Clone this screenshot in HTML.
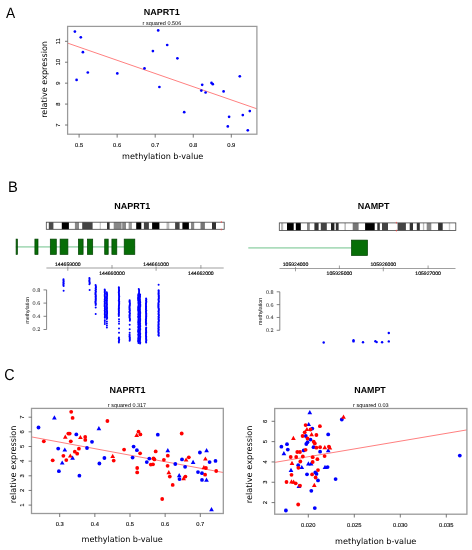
<!DOCTYPE html>
<html><head><meta charset="utf-8"><title>Figure</title>
<style>
html,body{margin:0;padding:0;background:#fff;width:472px;height:550px;overflow:hidden;}
svg{display:block;}
text{font-family:"Liberation Sans", Arial, sans-serif;dominant-baseline:alphabetic;text-rendering:geometricPrecision;}
</style></head>
<body>
<svg width="472" height="550" viewBox="0 0 472 550">
<rect x="0" y="0" width="472" height="550" fill="#fff"/>
<text x="5.93" y="17.95" font-size="15" text-anchor="start" fill="#000" textLength="9.16" lengthAdjust="spacingAndGlyphs">A</text>
<text x="8.02" y="191.5" font-size="15.2" text-anchor="start" fill="#000" textLength="9.81" lengthAdjust="spacingAndGlyphs">B</text>
<text x="4.33" y="379.6" font-size="15.9" text-anchor="start" fill="#000" textLength="10.33" lengthAdjust="spacingAndGlyphs">C</text>
<text x="161.75" y="14.9" font-size="8.9" text-anchor="middle" fill="#000" font-weight="bold" textLength="36" lengthAdjust="spacingAndGlyphs">NAPRT1</text>
<text x="161.9" y="25.2" font-size="5.5" text-anchor="middle" fill="#000" textLength="38.6" lengthAdjust="spacingAndGlyphs">r squared 0.506</text>
<line x1="67.6" y1="43.1" x2="256.9" y2="108.8" stroke="#ff8080" stroke-width="1"/>
<rect x="67.6" y="26.4" width="189.29999999999998" height="107.79999999999998" fill="none" stroke="#9a9a9a" stroke-width="1.25"/>
<line x1="65" y1="125.02" x2="67.6" y2="125.02" stroke="#555" stroke-width="0.8"/>
<text transform="translate(59.8,125.02) rotate(-90)" font-size="5.8" text-anchor="middle" fill="#000" stroke="#000" stroke-width="0.1">7</text>
<line x1="65" y1="104.09" x2="67.6" y2="104.09" stroke="#555" stroke-width="0.8"/>
<text transform="translate(59.8,104.09) rotate(-90)" font-size="5.8" text-anchor="middle" fill="#000" stroke="#000" stroke-width="0.1">8</text>
<line x1="65" y1="83.16" x2="67.6" y2="83.16" stroke="#555" stroke-width="0.8"/>
<text transform="translate(59.8,83.16) rotate(-90)" font-size="5.8" text-anchor="middle" fill="#000" stroke="#000" stroke-width="0.1">9</text>
<line x1="65" y1="62.23" x2="67.6" y2="62.23" stroke="#555" stroke-width="0.8"/>
<text transform="translate(59.8,62.23) rotate(-90)" font-size="5.8" text-anchor="middle" fill="#000" stroke="#000" stroke-width="0.1">10</text>
<line x1="65" y1="41.3" x2="67.6" y2="41.3" stroke="#555" stroke-width="0.8"/>
<text transform="translate(59.8,41.3) rotate(-90)" font-size="5.8" text-anchor="middle" fill="#000" stroke="#000" stroke-width="0.1">11</text>
<line x1="79.1" y1="134.2" x2="79.1" y2="137.6" stroke="#555" stroke-width="0.8"/>
<text x="79.1" y="146.5" font-size="5.8" text-anchor="middle" fill="#000" stroke="#000" stroke-width="0.1">0.5</text>
<line x1="117.14999999999998" y1="134.2" x2="117.14999999999998" y2="137.6" stroke="#555" stroke-width="0.8"/>
<text x="117.14999999999998" y="146.5" font-size="5.8" text-anchor="middle" fill="#000" stroke="#000" stroke-width="0.1">0.6</text>
<line x1="155.2" y1="134.2" x2="155.2" y2="137.6" stroke="#555" stroke-width="0.8"/>
<text x="155.2" y="146.5" font-size="5.8" text-anchor="middle" fill="#000" stroke="#000" stroke-width="0.1">0.7</text>
<line x1="193.25" y1="134.2" x2="193.25" y2="137.6" stroke="#555" stroke-width="0.8"/>
<text x="193.25" y="146.5" font-size="5.8" text-anchor="middle" fill="#000" stroke="#000" stroke-width="0.1">0.8</text>
<line x1="231.3" y1="134.2" x2="231.3" y2="137.6" stroke="#555" stroke-width="0.8"/>
<text x="231.3" y="146.5" font-size="5.8" text-anchor="middle" fill="#000" stroke="#000" stroke-width="0.1">0.9</text>
<text x="162.7" y="159.1" font-size="8.1" text-anchor="middle" fill="#000" textLength="81.2" lengthAdjust="spacingAndGlyphs" style="font-family:&apos;DejaVu Sans&apos;,sans-serif">methylation b-value</text>
<text transform="translate(47.1,79.4) rotate(-90)" font-size="8.1" text-anchor="middle" fill="#000" textLength="76.8" lengthAdjust="spacingAndGlyphs" style="font-family:&apos;DejaVu Sans&apos;,sans-serif">relative expression</text>
<circle cx="74.9" cy="31.6" r="1.35" fill="#0000ff"/>
<circle cx="80.8" cy="37.3" r="1.35" fill="#0000ff"/>
<circle cx="82.9" cy="52.2" r="1.35" fill="#0000ff"/>
<circle cx="87.8" cy="72.5" r="1.35" fill="#0000ff"/>
<circle cx="76.6" cy="79.9" r="1.35" fill="#0000ff"/>
<circle cx="117.3" cy="73.4" r="1.35" fill="#0000ff"/>
<circle cx="144.5" cy="68.4" r="1.35" fill="#0000ff"/>
<circle cx="152.9" cy="51.1" r="1.35" fill="#0000ff"/>
<circle cx="158.2" cy="30.4" r="1.35" fill="#0000ff"/>
<circle cx="159.4" cy="87.0" r="1.35" fill="#0000ff"/>
<circle cx="167.2" cy="45.0" r="1.35" fill="#0000ff"/>
<circle cx="177.4" cy="58.3" r="1.35" fill="#0000ff"/>
<circle cx="239.8" cy="76.3" r="1.35" fill="#0000ff"/>
<circle cx="202.2" cy="84.8" r="1.35" fill="#0000ff"/>
<circle cx="211.5" cy="82.9" r="1.35" fill="#0000ff"/>
<circle cx="212.8" cy="84.2" r="1.35" fill="#0000ff"/>
<circle cx="201.3" cy="90.6" r="1.35" fill="#0000ff"/>
<circle cx="205.6" cy="92.5" r="1.35" fill="#0000ff"/>
<circle cx="223.6" cy="91.4" r="1.35" fill="#0000ff"/>
<circle cx="184.2" cy="112.2" r="1.35" fill="#0000ff"/>
<circle cx="229.1" cy="116.8" r="1.35" fill="#0000ff"/>
<circle cx="242.8" cy="115.1" r="1.35" fill="#0000ff"/>
<circle cx="249.8" cy="111.1" r="1.35" fill="#0000ff"/>
<circle cx="227.8" cy="126.4" r="1.35" fill="#0000ff"/>
<circle cx="247.8" cy="130.3" r="1.35" fill="#0000ff"/>
<text x="132.15" y="208.9" font-size="8.9" text-anchor="middle" fill="#000" font-weight="bold" textLength="36" lengthAdjust="spacingAndGlyphs">NAPRT1</text>
<text x="373.65" y="208.9" font-size="8.9" text-anchor="middle" fill="#000" font-weight="bold" textLength="31.85" lengthAdjust="spacingAndGlyphs">NAMPT</text>
<rect x="46.3" y="222.2" width="177.89999999999998" height="7.100000000000023" fill="#fff" stroke="none" stroke-width="1"/>
<rect x="48.8" y="222.2" width="4.600000000000001" height="7.100000000000023" fill="#4a4a4a" stroke="none" stroke-width="1"/>
<rect x="61.8" y="222.2" width="7.1000000000000085" height="7.100000000000023" fill="#000" stroke="none" stroke-width="1"/>
<rect x="74.9" y="222.2" width="4.099999999999994" height="7.100000000000023" fill="#888" stroke="none" stroke-width="1"/>
<rect x="82.2" y="222.2" width="10.399999999999991" height="7.100000000000023" fill="#444" stroke="none" stroke-width="1"/>
<rect x="99.8" y="222.2" width="0.7999999999999972" height="7.100000000000023" fill="#aaa" stroke="none" stroke-width="1"/>
<rect x="107.0" y="222.2" width="2.5999999999999943" height="7.100000000000023" fill="#333" stroke="none" stroke-width="1"/>
<rect x="113.7" y="222.2" width="7.299999999999997" height="7.100000000000023" fill="#888" stroke="none" stroke-width="1"/>
<rect x="121.0" y="222.2" width="1.2000000000000028" height="7.100000000000023" fill="#bbb" stroke="none" stroke-width="1"/>
<rect x="122.2" y="222.2" width="3.799999999999997" height="7.100000000000023" fill="#888" stroke="none" stroke-width="1"/>
<rect x="128.6" y="222.2" width="3.3000000000000114" height="7.100000000000023" fill="#999" stroke="none" stroke-width="1"/>
<rect x="136.2" y="222.2" width="5.100000000000023" height="7.100000000000023" fill="#000" stroke="none" stroke-width="1"/>
<rect x="143.9" y="222.2" width="5.0" height="7.100000000000023" fill="#444" stroke="none" stroke-width="1"/>
<rect x="152.1" y="222.2" width="7.300000000000011" height="7.100000000000023" fill="#000" stroke="none" stroke-width="1"/>
<rect x="166.5" y="222.2" width="2.8000000000000114" height="7.100000000000023" fill="#bbb" stroke="none" stroke-width="1"/>
<rect x="175.1" y="222.2" width="4.5" height="7.100000000000023" fill="#444" stroke="none" stroke-width="1"/>
<rect x="182.4" y="222.2" width="6.5" height="7.100000000000023" fill="#000" stroke="none" stroke-width="1"/>
<rect x="191.0" y="222.2" width="3.1999999999999886" height="7.100000000000023" fill="#888" stroke="none" stroke-width="1"/>
<rect x="200.5" y="222.2" width="4.400000000000006" height="7.100000000000023" fill="#777" stroke="none" stroke-width="1"/>
<rect x="212.0" y="222.2" width="4.0" height="7.100000000000023" fill="#333" stroke="none" stroke-width="1"/>
<rect x="46.3" y="222.2" width="177.89999999999998" height="7.100000000000023" fill="none" stroke="#444" stroke-width="0.8"/>
<line x1="221.3" y1="221.2" x2="221.3" y2="222.79999999999998" stroke="#ff4040" stroke-width="0.8"/>
<line x1="221.3" y1="228.70000000000002" x2="221.3" y2="230.3" stroke="#ff4040" stroke-width="0.8"/>
<rect x="279.3" y="222.9" width="176.5" height="7.5" fill="#fff" stroke="none" stroke-width="1"/>
<rect x="281.0" y="222.9" width="2.1999999999999886" height="7.5" fill="#bbb" stroke="none" stroke-width="1"/>
<rect x="287.0" y="222.9" width="6.699999999999989" height="7.5" fill="#000" stroke="none" stroke-width="1"/>
<rect x="295.8" y="222.9" width="5.0" height="7.5" fill="#000" stroke="none" stroke-width="1"/>
<rect x="307.0" y="222.9" width="2.8000000000000114" height="7.5" fill="#888" stroke="none" stroke-width="1"/>
<rect x="314.4" y="222.9" width="4.2000000000000455" height="7.5" fill="#333" stroke="none" stroke-width="1"/>
<rect x="320.8" y="222.9" width="6.0" height="7.5" fill="#444" stroke="none" stroke-width="1"/>
<rect x="331.0" y="222.9" width="3.3999999999999773" height="7.5" fill="#222" stroke="none" stroke-width="1"/>
<rect x="335.8" y="222.9" width="2.8000000000000114" height="7.5" fill="#333" stroke="none" stroke-width="1"/>
<rect x="344.6" y="222.9" width="1.0" height="7.5" fill="#999" stroke="none" stroke-width="1"/>
<rect x="352.7" y="222.9" width="5.900000000000034" height="7.5" fill="#777" stroke="none" stroke-width="1"/>
<rect x="365.1" y="222.9" width="9.599999999999966" height="7.5" fill="#000" stroke="none" stroke-width="1"/>
<rect x="377.3" y="222.9" width="2.5" height="7.5" fill="#333" stroke="none" stroke-width="1"/>
<rect x="382.0" y="222.9" width="6.0" height="7.5" fill="#444" stroke="none" stroke-width="1"/>
<rect x="397.6" y="222.9" width="8.299999999999955" height="7.5" fill="#444" stroke="none" stroke-width="1"/>
<rect x="409.7" y="222.9" width="3.3000000000000114" height="7.5" fill="#333" stroke="none" stroke-width="1"/>
<rect x="416.8" y="222.9" width="3.0" height="7.5" fill="#333" stroke="none" stroke-width="1"/>
<rect x="422.9" y="222.9" width="1.3000000000000114" height="7.5" fill="#bbb" stroke="none" stroke-width="1"/>
<rect x="426.7" y="222.9" width="4.600000000000023" height="7.5" fill="#888" stroke="none" stroke-width="1"/>
<rect x="438.1" y="222.9" width="4.599999999999966" height="7.5" fill="#333" stroke="none" stroke-width="1"/>
<rect x="448.8" y="222.9" width="1.3999999999999773" height="7.5" fill="#ccc" stroke="none" stroke-width="1"/>
<rect x="279.3" y="222.9" width="176.5" height="7.5" fill="none" stroke="#444" stroke-width="0.8"/>
<line x1="396.4" y1="221.9" x2="396.4" y2="223.5" stroke="#ff4040" stroke-width="0.8"/>
<line x1="396.4" y1="229.8" x2="396.4" y2="231.4" stroke="#ff4040" stroke-width="0.8"/>
<line x1="15.8" y1="246.8" x2="135.1" y2="246.8" stroke="#acdcbc" stroke-width="1.7"/>
<rect x="16.1" y="239.1" width="1.2999999999999985" height="15.3" fill="#076e07" stroke="#004000" stroke-width="0.7"/>
<rect x="34.9" y="239.1" width="3.0999999999999956" height="15.3" fill="#076e07" stroke="#004000" stroke-width="0.7"/>
<rect x="50.3" y="239.1" width="6.000000000000002" height="15.3" fill="#076e07" stroke="#004000" stroke-width="0.7"/>
<rect x="60.099999999999994" y="239.1" width="7.800000000000006" height="15.3" fill="#076e07" stroke="#004000" stroke-width="0.7"/>
<rect x="78.39999999999999" y="239.1" width="4.700000000000012" height="15.3" fill="#076e07" stroke="#004000" stroke-width="0.7"/>
<rect x="87.39999999999999" y="239.1" width="5.300000000000006" height="15.3" fill="#076e07" stroke="#004000" stroke-width="0.7"/>
<rect x="104.7" y="239.1" width="3.4999999999999942" height="15.3" fill="#076e07" stroke="#004000" stroke-width="0.7"/>
<rect x="111.89999999999999" y="239.1" width="4.9" height="15.3" fill="#076e07" stroke="#004000" stroke-width="0.7"/>
<rect x="124.2" y="239.1" width="10.599999999999989" height="15.3" fill="#076e07" stroke="#004000" stroke-width="0.7"/>
<line x1="248.3" y1="247.8" x2="351.2" y2="247.8" stroke="#acdcbc" stroke-width="1.7"/>
<rect x="351.5" y="240.1" width="16.0" height="15.4" fill="#076e07" stroke="#004000" stroke-width="0.7"/>
<line x1="46.4" y1="268.0" x2="223.7" y2="268.0" stroke="#a0a0a0" stroke-width="1.2"/>
<line x1="67.8" y1="266.59999999999997" x2="67.8" y2="270.79999999999995" stroke="#777" stroke-width="0.7"/>
<text x="67.8" y="265.5" font-size="5.1" text-anchor="middle" fill="#000" textLength="25.6" lengthAdjust="spacingAndGlyphs" stroke="#000" stroke-width="0.15">144659000</text>
<line x1="112.0" y1="265.0" x2="112.0" y2="268.5" stroke="#777" stroke-width="0.7"/>
<text x="112.0" y="274.7" font-size="5.1" text-anchor="middle" fill="#000" textLength="25.6" lengthAdjust="spacingAndGlyphs" stroke="#000" stroke-width="0.15">144660000</text>
<line x1="156.1" y1="266.59999999999997" x2="156.1" y2="270.79999999999995" stroke="#777" stroke-width="0.7"/>
<text x="156.1" y="265.5" font-size="5.1" text-anchor="middle" fill="#000" textLength="25.6" lengthAdjust="spacingAndGlyphs" stroke="#000" stroke-width="0.15">144661000</text>
<line x1="200.9" y1="265.0" x2="200.9" y2="268.5" stroke="#777" stroke-width="0.7"/>
<text x="200.9" y="274.7" font-size="5.1" text-anchor="middle" fill="#000" textLength="25.6" lengthAdjust="spacingAndGlyphs" stroke="#000" stroke-width="0.15">144662000</text>
<line x1="279.5" y1="268.5" x2="455.5" y2="268.5" stroke="#a0a0a0" stroke-width="1.2"/>
<line x1="295.5" y1="267.09999999999997" x2="295.5" y2="271.29999999999995" stroke="#777" stroke-width="0.7"/>
<text x="295.5" y="266.0" font-size="5.1" text-anchor="middle" fill="#000" textLength="25.6" lengthAdjust="spacingAndGlyphs" stroke="#000" stroke-width="0.15">105924000</text>
<line x1="339.4" y1="265.5" x2="339.4" y2="269.0" stroke="#777" stroke-width="0.7"/>
<text x="339.4" y="275.2" font-size="5.1" text-anchor="middle" fill="#000" textLength="25.6" lengthAdjust="spacingAndGlyphs" stroke="#000" stroke-width="0.15">105925000</text>
<line x1="383.3" y1="267.09999999999997" x2="383.3" y2="271.29999999999995" stroke="#777" stroke-width="0.7"/>
<text x="383.3" y="266.0" font-size="5.1" text-anchor="middle" fill="#000" textLength="25.6" lengthAdjust="spacingAndGlyphs" stroke="#000" stroke-width="0.15">105926000</text>
<line x1="428.1" y1="265.5" x2="428.1" y2="269.0" stroke="#777" stroke-width="0.7"/>
<text x="428.1" y="275.2" font-size="5.1" text-anchor="middle" fill="#000" textLength="25.6" lengthAdjust="spacingAndGlyphs" stroke="#000" stroke-width="0.15">105927000</text>
<line x1="46.6" y1="289.9" x2="46.6" y2="329.5" stroke="#666" stroke-width="0.8"/>
<line x1="43.5" y1="289.9" x2="46.6" y2="289.9" stroke="#666" stroke-width="0.8"/>
<text x="40.2" y="291.79999999999995" font-size="5.2" text-anchor="end" fill="#333" textLength="7.6" lengthAdjust="spacingAndGlyphs" stroke="#333" stroke-width="0.05">0.8</text>
<line x1="43.5" y1="303.09999999999997" x2="46.6" y2="303.09999999999997" stroke="#666" stroke-width="0.8"/>
<text x="40.2" y="304.99999999999994" font-size="5.2" text-anchor="end" fill="#333" textLength="7.6" lengthAdjust="spacingAndGlyphs" stroke="#333" stroke-width="0.05">0.6</text>
<line x1="43.5" y1="316.29999999999995" x2="46.6" y2="316.29999999999995" stroke="#666" stroke-width="0.8"/>
<text x="40.2" y="318.19999999999993" font-size="5.2" text-anchor="end" fill="#333" textLength="7.6" lengthAdjust="spacingAndGlyphs" stroke="#333" stroke-width="0.05">0.4</text>
<line x1="43.5" y1="329.5" x2="46.6" y2="329.5" stroke="#666" stroke-width="0.8"/>
<text x="40.2" y="331.4" font-size="5.2" text-anchor="end" fill="#333" textLength="7.6" lengthAdjust="spacingAndGlyphs" stroke="#333" stroke-width="0.05">0.2</text>
<text transform="translate(28.9,310.20000000000005) rotate(-90)" font-size="5.2" text-anchor="middle" fill="#333" textLength="26.80000000000001" lengthAdjust="spacingAndGlyphs" stroke="#333" stroke-width="0.05">methylation</text>
<line x1="279.8" y1="291.8" x2="279.8" y2="330.29" stroke="#666" stroke-width="0.8"/>
<line x1="276.7" y1="291.8" x2="279.8" y2="291.8" stroke="#666" stroke-width="0.8"/>
<text x="273.5" y="293.7" font-size="5.2" text-anchor="end" fill="#333" textLength="7.6" lengthAdjust="spacingAndGlyphs" stroke="#333" stroke-width="0.05">0.8</text>
<line x1="276.7" y1="304.63" x2="279.8" y2="304.63" stroke="#666" stroke-width="0.8"/>
<text x="273.5" y="306.53" font-size="5.2" text-anchor="end" fill="#333" textLength="7.6" lengthAdjust="spacingAndGlyphs" stroke="#333" stroke-width="0.05">0.6</text>
<line x1="276.7" y1="317.46000000000004" x2="279.8" y2="317.46000000000004" stroke="#666" stroke-width="0.8"/>
<text x="273.5" y="319.36" font-size="5.2" text-anchor="end" fill="#333" textLength="7.6" lengthAdjust="spacingAndGlyphs" stroke="#333" stroke-width="0.05">0.4</text>
<line x1="276.7" y1="330.29" x2="279.8" y2="330.29" stroke="#666" stroke-width="0.8"/>
<text x="273.5" y="332.19" font-size="5.2" text-anchor="end" fill="#333" textLength="7.6" lengthAdjust="spacingAndGlyphs" stroke="#333" stroke-width="0.05">0.2</text>
<text transform="translate(261.9,311.35) rotate(-90)" font-size="5.2" text-anchor="middle" fill="#333" textLength="27.099999999999966" lengthAdjust="spacingAndGlyphs" stroke="#333" stroke-width="0.05">methylation</text>
<circle cx="63.51" cy="279.3" r="1.0" fill="#0000ff"/>
<circle cx="63.43" cy="280.26" r="1.0" fill="#0000ff"/>
<circle cx="63.68" cy="281.21" r="1.0" fill="#0000ff"/>
<circle cx="63.39" cy="282.17" r="1.0" fill="#0000ff"/>
<circle cx="63.62" cy="283.13" r="1.0" fill="#0000ff"/>
<circle cx="63.53" cy="284.09" r="1.0" fill="#0000ff"/>
<circle cx="63.38" cy="285.04" r="1.0" fill="#0000ff"/>
<circle cx="63.6" cy="286.0" r="1.0" fill="#0000ff"/>
<circle cx="63.6" cy="290.7" r="1.0" fill="#0000ff"/>
<circle cx="89.37" cy="278.1" r="1.0" fill="#0000ff"/>
<circle cx="89.57" cy="279.12" r="1.0" fill="#0000ff"/>
<circle cx="89.38" cy="280.13" r="1.0" fill="#0000ff"/>
<circle cx="89.4" cy="281.15" r="1.0" fill="#0000ff"/>
<circle cx="89.56" cy="282.17" r="1.0" fill="#0000ff"/>
<circle cx="89.76" cy="283.18" r="1.0" fill="#0000ff"/>
<circle cx="89.41" cy="284.2" r="1.0" fill="#0000ff"/>
<circle cx="89.6" cy="289.9" r="1.0" fill="#0000ff"/>
<circle cx="95.56" cy="285.1" r="1.0" fill="#0000ff"/>
<circle cx="95.76" cy="286.0" r="1.0" fill="#0000ff"/>
<circle cx="95.92" cy="286.91" r="1.0" fill="#0000ff"/>
<circle cx="95.74" cy="287.81" r="1.0" fill="#0000ff"/>
<circle cx="95.65" cy="288.72" r="1.0" fill="#0000ff"/>
<circle cx="95.94" cy="289.62" r="1.0" fill="#0000ff"/>
<circle cx="95.47" cy="290.53" r="1.0" fill="#0000ff"/>
<circle cx="95.88" cy="291.43" r="1.0" fill="#0000ff"/>
<circle cx="95.59" cy="292.34" r="1.0" fill="#0000ff"/>
<circle cx="95.52" cy="293.24" r="1.0" fill="#0000ff"/>
<circle cx="95.51" cy="294.15" r="1.0" fill="#0000ff"/>
<circle cx="95.6" cy="295.05" r="1.0" fill="#0000ff"/>
<circle cx="95.86" cy="295.95" r="1.0" fill="#0000ff"/>
<circle cx="95.54" cy="296.86" r="1.0" fill="#0000ff"/>
<circle cx="95.74" cy="297.76" r="1.0" fill="#0000ff"/>
<circle cx="95.77" cy="298.67" r="1.0" fill="#0000ff"/>
<circle cx="95.64" cy="299.57" r="1.0" fill="#0000ff"/>
<circle cx="95.72" cy="300.48" r="1.0" fill="#0000ff"/>
<circle cx="95.48" cy="301.38" r="1.0" fill="#0000ff"/>
<circle cx="95.48" cy="302.29" r="1.0" fill="#0000ff"/>
<circle cx="95.55" cy="303.19" r="1.0" fill="#0000ff"/>
<circle cx="95.79" cy="304.1" r="1.0" fill="#0000ff"/>
<circle cx="95.66" cy="305.0" r="1.0" fill="#0000ff"/>
<circle cx="95.7" cy="307.6" r="1.0" fill="#0000ff"/>
<circle cx="95.7" cy="314.0" r="1.0" fill="#0000ff"/>
<circle cx="104.71" cy="289.5" r="1.0" fill="#0000ff"/>
<circle cx="104.84" cy="290.41" r="1.0" fill="#0000ff"/>
<circle cx="104.78" cy="291.33" r="1.0" fill="#0000ff"/>
<circle cx="104.7" cy="292.24" r="1.0" fill="#0000ff"/>
<circle cx="104.95" cy="293.15" r="1.0" fill="#0000ff"/>
<circle cx="104.9" cy="294.06" r="1.0" fill="#0000ff"/>
<circle cx="104.67" cy="294.98" r="1.0" fill="#0000ff"/>
<circle cx="104.84" cy="295.89" r="1.0" fill="#0000ff"/>
<circle cx="104.81" cy="296.8" r="1.0" fill="#0000ff"/>
<circle cx="104.99" cy="297.72" r="1.0" fill="#0000ff"/>
<circle cx="104.91" cy="298.63" r="1.0" fill="#0000ff"/>
<circle cx="104.69" cy="299.54" r="1.0" fill="#0000ff"/>
<circle cx="105.04" cy="300.45" r="1.0" fill="#0000ff"/>
<circle cx="104.61" cy="301.37" r="1.0" fill="#0000ff"/>
<circle cx="104.76" cy="302.28" r="1.0" fill="#0000ff"/>
<circle cx="104.93" cy="303.19" r="1.0" fill="#0000ff"/>
<circle cx="104.63" cy="304.11" r="1.0" fill="#0000ff"/>
<circle cx="104.79" cy="305.02" r="1.0" fill="#0000ff"/>
<circle cx="104.57" cy="305.93" r="1.0" fill="#0000ff"/>
<circle cx="104.88" cy="306.85" r="1.0" fill="#0000ff"/>
<circle cx="104.93" cy="307.76" r="1.0" fill="#0000ff"/>
<circle cx="104.84" cy="308.67" r="1.0" fill="#0000ff"/>
<circle cx="104.99" cy="309.58" r="1.0" fill="#0000ff"/>
<circle cx="104.71" cy="310.5" r="1.0" fill="#0000ff"/>
<circle cx="104.9" cy="311.41" r="1.0" fill="#0000ff"/>
<circle cx="104.85" cy="312.32" r="1.0" fill="#0000ff"/>
<circle cx="104.84" cy="313.24" r="1.0" fill="#0000ff"/>
<circle cx="104.78" cy="314.15" r="1.0" fill="#0000ff"/>
<circle cx="104.97" cy="315.06" r="1.0" fill="#0000ff"/>
<circle cx="105.02" cy="315.97" r="1.0" fill="#0000ff"/>
<circle cx="104.79" cy="316.89" r="1.0" fill="#0000ff"/>
<circle cx="104.88" cy="317.8" r="1.0" fill="#0000ff"/>
<circle cx="104.8" cy="320.3" r="1.0" fill="#0000ff"/>
<circle cx="104.8" cy="322.0" r="1.0" fill="#0000ff"/>
<circle cx="104.8" cy="324.1" r="1.0" fill="#0000ff"/>
<circle cx="106.68" cy="292.3" r="1.0" fill="#0000ff"/>
<circle cx="107.0" cy="293.22" r="1.0" fill="#0000ff"/>
<circle cx="106.97" cy="294.14" r="1.0" fill="#0000ff"/>
<circle cx="107.15" cy="295.06" r="1.0" fill="#0000ff"/>
<circle cx="107.06" cy="295.98" r="1.0" fill="#0000ff"/>
<circle cx="106.79" cy="296.9" r="1.0" fill="#0000ff"/>
<circle cx="106.84" cy="297.82" r="1.0" fill="#0000ff"/>
<circle cx="106.98" cy="298.74" r="1.0" fill="#0000ff"/>
<circle cx="106.66" cy="299.67" r="1.0" fill="#0000ff"/>
<circle cx="106.88" cy="300.59" r="1.0" fill="#0000ff"/>
<circle cx="106.73" cy="301.51" r="1.0" fill="#0000ff"/>
<circle cx="106.71" cy="302.43" r="1.0" fill="#0000ff"/>
<circle cx="106.68" cy="303.35" r="1.0" fill="#0000ff"/>
<circle cx="107.03" cy="304.27" r="1.0" fill="#0000ff"/>
<circle cx="106.71" cy="305.19" r="1.0" fill="#0000ff"/>
<circle cx="106.77" cy="306.11" r="1.0" fill="#0000ff"/>
<circle cx="106.85" cy="307.03" r="1.0" fill="#0000ff"/>
<circle cx="107.09" cy="307.95" r="1.0" fill="#0000ff"/>
<circle cx="106.69" cy="308.87" r="1.0" fill="#0000ff"/>
<circle cx="106.87" cy="309.79" r="1.0" fill="#0000ff"/>
<circle cx="106.92" cy="310.71" r="1.0" fill="#0000ff"/>
<circle cx="107.09" cy="311.63" r="1.0" fill="#0000ff"/>
<circle cx="107.06" cy="312.56" r="1.0" fill="#0000ff"/>
<circle cx="107.08" cy="313.48" r="1.0" fill="#0000ff"/>
<circle cx="106.79" cy="314.4" r="1.0" fill="#0000ff"/>
<circle cx="106.86" cy="315.32" r="1.0" fill="#0000ff"/>
<circle cx="106.83" cy="316.24" r="1.0" fill="#0000ff"/>
<circle cx="107.09" cy="317.16" r="1.0" fill="#0000ff"/>
<circle cx="107.13" cy="318.08" r="1.0" fill="#0000ff"/>
<circle cx="106.73" cy="319.0" r="1.0" fill="#0000ff"/>
<circle cx="106.9" cy="321.5" r="1.0" fill="#0000ff"/>
<circle cx="106.9" cy="323.5" r="1.0" fill="#0000ff"/>
<circle cx="106.9" cy="325.5" r="1.0" fill="#0000ff"/>
<circle cx="106.9" cy="327.5" r="1.0" fill="#0000ff"/>
<circle cx="118.84" cy="287.2" r="1.0" fill="#0000ff"/>
<circle cx="118.87" cy="288.1" r="1.0" fill="#0000ff"/>
<circle cx="118.87" cy="289.0" r="1.0" fill="#0000ff"/>
<circle cx="118.99" cy="289.9" r="1.0" fill="#0000ff"/>
<circle cx="119.04" cy="290.8" r="1.0" fill="#0000ff"/>
<circle cx="118.88" cy="291.7" r="1.0" fill="#0000ff"/>
<circle cx="118.75" cy="292.6" r="1.0" fill="#0000ff"/>
<circle cx="118.96" cy="293.5" r="1.0" fill="#0000ff"/>
<circle cx="118.93" cy="294.4" r="1.0" fill="#0000ff"/>
<circle cx="119.03" cy="295.3" r="1.0" fill="#0000ff"/>
<circle cx="119.23" cy="296.2" r="1.0" fill="#0000ff"/>
<circle cx="119.1" cy="297.1" r="1.0" fill="#0000ff"/>
<circle cx="119.01" cy="298.0" r="1.0" fill="#0000ff"/>
<circle cx="119.06" cy="298.9" r="1.0" fill="#0000ff"/>
<circle cx="119.09" cy="299.8" r="1.0" fill="#0000ff"/>
<circle cx="118.78" cy="300.7" r="1.0" fill="#0000ff"/>
<circle cx="119.2" cy="301.6" r="1.0" fill="#0000ff"/>
<circle cx="119.14" cy="302.5" r="1.0" fill="#0000ff"/>
<circle cx="119.19" cy="303.4" r="1.0" fill="#0000ff"/>
<circle cx="119.15" cy="304.3" r="1.0" fill="#0000ff"/>
<circle cx="118.95" cy="305.2" r="1.0" fill="#0000ff"/>
<circle cx="118.95" cy="306.1" r="1.0" fill="#0000ff"/>
<circle cx="118.8" cy="307.0" r="1.0" fill="#0000ff"/>
<circle cx="119.07" cy="307.9" r="1.0" fill="#0000ff"/>
<circle cx="118.78" cy="308.8" r="1.0" fill="#0000ff"/>
<circle cx="118.78" cy="309.7" r="1.0" fill="#0000ff"/>
<circle cx="118.85" cy="310.6" r="1.0" fill="#0000ff"/>
<circle cx="118.83" cy="311.5" r="1.0" fill="#0000ff"/>
<circle cx="118.92" cy="312.4" r="1.0" fill="#0000ff"/>
<circle cx="118.78" cy="313.3" r="1.0" fill="#0000ff"/>
<circle cx="118.75" cy="314.2" r="1.0" fill="#0000ff"/>
<circle cx="118.83" cy="315.1" r="1.0" fill="#0000ff"/>
<circle cx="118.8" cy="316.0" r="1.0" fill="#0000ff"/>
<circle cx="118.93" cy="337.6" r="1.0" fill="#0000ff"/>
<circle cx="118.76" cy="338.56" r="1.0" fill="#0000ff"/>
<circle cx="119.19" cy="339.52" r="1.0" fill="#0000ff"/>
<circle cx="119.06" cy="340.48" r="1.0" fill="#0000ff"/>
<circle cx="118.82" cy="341.44" r="1.0" fill="#0000ff"/>
<circle cx="118.88" cy="342.4" r="1.0" fill="#0000ff"/>
<circle cx="119.0" cy="319.2" r="1.0" fill="#0000ff"/>
<circle cx="119.0" cy="321.4" r="1.0" fill="#0000ff"/>
<circle cx="119.0" cy="323.8" r="1.0" fill="#0000ff"/>
<circle cx="119.0" cy="328.6" r="1.0" fill="#0000ff"/>
<circle cx="119.0" cy="332.8" r="1.0" fill="#0000ff"/>
<circle cx="129.62" cy="300.2" r="1.0" fill="#0000ff"/>
<circle cx="129.63" cy="301.14" r="1.0" fill="#0000ff"/>
<circle cx="129.51" cy="302.07" r="1.0" fill="#0000ff"/>
<circle cx="129.87" cy="303.01" r="1.0" fill="#0000ff"/>
<circle cx="129.95" cy="303.95" r="1.0" fill="#0000ff"/>
<circle cx="129.68" cy="304.88" r="1.0" fill="#0000ff"/>
<circle cx="129.69" cy="305.82" r="1.0" fill="#0000ff"/>
<circle cx="129.49" cy="306.75" r="1.0" fill="#0000ff"/>
<circle cx="129.5" cy="307.69" r="1.0" fill="#0000ff"/>
<circle cx="129.62" cy="308.63" r="1.0" fill="#0000ff"/>
<circle cx="129.58" cy="309.56" r="1.0" fill="#0000ff"/>
<circle cx="129.86" cy="310.5" r="1.0" fill="#0000ff"/>
<circle cx="129.53" cy="311.44" r="1.0" fill="#0000ff"/>
<circle cx="129.46" cy="312.37" r="1.0" fill="#0000ff"/>
<circle cx="129.93" cy="313.31" r="1.0" fill="#0000ff"/>
<circle cx="129.71" cy="314.25" r="1.0" fill="#0000ff"/>
<circle cx="129.52" cy="315.18" r="1.0" fill="#0000ff"/>
<circle cx="129.72" cy="316.12" r="1.0" fill="#0000ff"/>
<circle cx="129.46" cy="317.05" r="1.0" fill="#0000ff"/>
<circle cx="129.71" cy="317.99" r="1.0" fill="#0000ff"/>
<circle cx="129.94" cy="318.93" r="1.0" fill="#0000ff"/>
<circle cx="129.88" cy="319.86" r="1.0" fill="#0000ff"/>
<circle cx="129.8" cy="320.8" r="1.0" fill="#0000ff"/>
<circle cx="129.58" cy="334.6" r="1.0" fill="#0000ff"/>
<circle cx="129.63" cy="335.63" r="1.0" fill="#0000ff"/>
<circle cx="129.53" cy="336.67" r="1.0" fill="#0000ff"/>
<circle cx="129.84" cy="337.7" r="1.0" fill="#0000ff"/>
<circle cx="129.72" cy="338.73" r="1.0" fill="#0000ff"/>
<circle cx="129.84" cy="339.77" r="1.0" fill="#0000ff"/>
<circle cx="129.61" cy="340.8" r="1.0" fill="#0000ff"/>
<circle cx="129.7" cy="324.7" r="1.0" fill="#0000ff"/>
<circle cx="129.7" cy="329.2" r="1.0" fill="#0000ff"/>
<circle cx="129.7" cy="332.8" r="1.0" fill="#0000ff"/>
<circle cx="138.76" cy="289.0" r="1.0" fill="#0000ff"/>
<circle cx="139.06" cy="290.0" r="1.0" fill="#0000ff"/>
<circle cx="139.14" cy="291.0" r="1.0" fill="#0000ff"/>
<circle cx="139.08" cy="292.0" r="1.0" fill="#0000ff"/>
<circle cx="139.05" cy="293.0" r="1.0" fill="#0000ff"/>
<circle cx="139.06" cy="294.0" r="1.0" fill="#0000ff"/>
<circle cx="138.52" cy="294.0" r="1.0" fill="#0000ff"/>
<circle cx="140.12" cy="294.4" r="1.0" fill="#0000ff"/>
<circle cx="138.26" cy="294.91" r="1.0" fill="#0000ff"/>
<circle cx="139.86" cy="295.31" r="1.0" fill="#0000ff"/>
<circle cx="138.41" cy="295.81" r="1.0" fill="#0000ff"/>
<circle cx="140.01" cy="296.21" r="1.0" fill="#0000ff"/>
<circle cx="138.33" cy="296.72" r="1.0" fill="#0000ff"/>
<circle cx="139.93" cy="297.12" r="1.0" fill="#0000ff"/>
<circle cx="138.16" cy="297.63" r="1.0" fill="#0000ff"/>
<circle cx="139.76" cy="298.03" r="1.0" fill="#0000ff"/>
<circle cx="138.16" cy="298.54" r="1.0" fill="#0000ff"/>
<circle cx="139.76" cy="298.94" r="1.0" fill="#0000ff"/>
<circle cx="138.29" cy="299.44" r="1.0" fill="#0000ff"/>
<circle cx="139.89" cy="299.84" r="1.0" fill="#0000ff"/>
<circle cx="138.28" cy="300.35" r="1.0" fill="#0000ff"/>
<circle cx="139.88" cy="300.75" r="1.0" fill="#0000ff"/>
<circle cx="138.5" cy="301.26" r="1.0" fill="#0000ff"/>
<circle cx="140.1" cy="301.66" r="1.0" fill="#0000ff"/>
<circle cx="138.63" cy="302.17" r="1.0" fill="#0000ff"/>
<circle cx="140.23" cy="302.57" r="1.0" fill="#0000ff"/>
<circle cx="138.37" cy="303.07" r="1.0" fill="#0000ff"/>
<circle cx="139.97" cy="303.47" r="1.0" fill="#0000ff"/>
<circle cx="138.62" cy="303.98" r="1.0" fill="#0000ff"/>
<circle cx="140.22" cy="304.38" r="1.0" fill="#0000ff"/>
<circle cx="138.64" cy="304.89" r="1.0" fill="#0000ff"/>
<circle cx="140.24" cy="305.29" r="1.0" fill="#0000ff"/>
<circle cx="138.63" cy="305.8" r="1.0" fill="#0000ff"/>
<circle cx="140.23" cy="306.2" r="1.0" fill="#0000ff"/>
<circle cx="138.33" cy="306.7" r="1.0" fill="#0000ff"/>
<circle cx="139.93" cy="307.1" r="1.0" fill="#0000ff"/>
<circle cx="138.26" cy="307.61" r="1.0" fill="#0000ff"/>
<circle cx="139.86" cy="308.01" r="1.0" fill="#0000ff"/>
<circle cx="138.26" cy="308.52" r="1.0" fill="#0000ff"/>
<circle cx="139.86" cy="308.92" r="1.0" fill="#0000ff"/>
<circle cx="138.25" cy="309.43" r="1.0" fill="#0000ff"/>
<circle cx="139.85" cy="309.83" r="1.0" fill="#0000ff"/>
<circle cx="138.25" cy="310.33" r="1.0" fill="#0000ff"/>
<circle cx="139.85" cy="310.73" r="1.0" fill="#0000ff"/>
<circle cx="138.46" cy="311.24" r="1.0" fill="#0000ff"/>
<circle cx="140.06" cy="311.64" r="1.0" fill="#0000ff"/>
<circle cx="138.6" cy="312.15" r="1.0" fill="#0000ff"/>
<circle cx="140.2" cy="312.55" r="1.0" fill="#0000ff"/>
<circle cx="138.57" cy="313.06" r="1.0" fill="#0000ff"/>
<circle cx="140.17" cy="313.46" r="1.0" fill="#0000ff"/>
<circle cx="138.39" cy="313.96" r="1.0" fill="#0000ff"/>
<circle cx="139.99" cy="314.36" r="1.0" fill="#0000ff"/>
<circle cx="138.48" cy="314.87" r="1.0" fill="#0000ff"/>
<circle cx="140.08" cy="315.27" r="1.0" fill="#0000ff"/>
<circle cx="138.55" cy="315.78" r="1.0" fill="#0000ff"/>
<circle cx="140.15" cy="316.18" r="1.0" fill="#0000ff"/>
<circle cx="138.19" cy="316.69" r="1.0" fill="#0000ff"/>
<circle cx="139.79" cy="317.09" r="1.0" fill="#0000ff"/>
<circle cx="138.48" cy="317.59" r="1.0" fill="#0000ff"/>
<circle cx="140.08" cy="317.99" r="1.0" fill="#0000ff"/>
<circle cx="138.6" cy="318.5" r="1.0" fill="#0000ff"/>
<circle cx="140.2" cy="318.9" r="1.0" fill="#0000ff"/>
<circle cx="138.54" cy="319.41" r="1.0" fill="#0000ff"/>
<circle cx="140.14" cy="319.81" r="1.0" fill="#0000ff"/>
<circle cx="138.53" cy="320.31" r="1.0" fill="#0000ff"/>
<circle cx="140.13" cy="320.71" r="1.0" fill="#0000ff"/>
<circle cx="138.39" cy="321.22" r="1.0" fill="#0000ff"/>
<circle cx="139.99" cy="321.62" r="1.0" fill="#0000ff"/>
<circle cx="138.24" cy="322.13" r="1.0" fill="#0000ff"/>
<circle cx="139.84" cy="322.53" r="1.0" fill="#0000ff"/>
<circle cx="138.54" cy="323.04" r="1.0" fill="#0000ff"/>
<circle cx="140.14" cy="323.44" r="1.0" fill="#0000ff"/>
<circle cx="138.32" cy="323.94" r="1.0" fill="#0000ff"/>
<circle cx="139.92" cy="324.34" r="1.0" fill="#0000ff"/>
<circle cx="138.55" cy="324.85" r="1.0" fill="#0000ff"/>
<circle cx="140.15" cy="325.25" r="1.0" fill="#0000ff"/>
<circle cx="138.64" cy="325.76" r="1.0" fill="#0000ff"/>
<circle cx="140.24" cy="326.16" r="1.0" fill="#0000ff"/>
<circle cx="138.35" cy="326.67" r="1.0" fill="#0000ff"/>
<circle cx="139.95" cy="327.07" r="1.0" fill="#0000ff"/>
<circle cx="138.35" cy="327.57" r="1.0" fill="#0000ff"/>
<circle cx="139.95" cy="327.97" r="1.0" fill="#0000ff"/>
<circle cx="138.62" cy="328.48" r="1.0" fill="#0000ff"/>
<circle cx="140.22" cy="328.88" r="1.0" fill="#0000ff"/>
<circle cx="138.51" cy="329.39" r="1.0" fill="#0000ff"/>
<circle cx="140.11" cy="329.79" r="1.0" fill="#0000ff"/>
<circle cx="138.24" cy="330.3" r="1.0" fill="#0000ff"/>
<circle cx="139.84" cy="330.7" r="1.0" fill="#0000ff"/>
<circle cx="138.21" cy="331.2" r="1.0" fill="#0000ff"/>
<circle cx="139.81" cy="331.6" r="1.0" fill="#0000ff"/>
<circle cx="138.23" cy="332.11" r="1.0" fill="#0000ff"/>
<circle cx="139.83" cy="332.51" r="1.0" fill="#0000ff"/>
<circle cx="138.6" cy="333.02" r="1.0" fill="#0000ff"/>
<circle cx="140.2" cy="333.42" r="1.0" fill="#0000ff"/>
<circle cx="138.55" cy="333.93" r="1.0" fill="#0000ff"/>
<circle cx="140.15" cy="334.33" r="1.0" fill="#0000ff"/>
<circle cx="138.22" cy="334.83" r="1.0" fill="#0000ff"/>
<circle cx="139.82" cy="335.23" r="1.0" fill="#0000ff"/>
<circle cx="138.56" cy="335.74" r="1.0" fill="#0000ff"/>
<circle cx="140.16" cy="336.14" r="1.0" fill="#0000ff"/>
<circle cx="138.64" cy="336.65" r="1.0" fill="#0000ff"/>
<circle cx="140.24" cy="337.05" r="1.0" fill="#0000ff"/>
<circle cx="138.48" cy="337.56" r="1.0" fill="#0000ff"/>
<circle cx="140.08" cy="337.96" r="1.0" fill="#0000ff"/>
<circle cx="138.33" cy="338.46" r="1.0" fill="#0000ff"/>
<circle cx="139.93" cy="338.86" r="1.0" fill="#0000ff"/>
<circle cx="138.42" cy="339.37" r="1.0" fill="#0000ff"/>
<circle cx="140.02" cy="339.77" r="1.0" fill="#0000ff"/>
<circle cx="138.22" cy="340.28" r="1.0" fill="#0000ff"/>
<circle cx="139.82" cy="340.68" r="1.0" fill="#0000ff"/>
<circle cx="138.16" cy="341.19" r="1.0" fill="#0000ff"/>
<circle cx="139.76" cy="341.59" r="1.0" fill="#0000ff"/>
<circle cx="138.64" cy="342.09" r="1.0" fill="#0000ff"/>
<circle cx="140.24" cy="342.49" r="1.0" fill="#0000ff"/>
<circle cx="138.47" cy="343.0" r="1.0" fill="#0000ff"/>
<circle cx="140.07" cy="343.4" r="1.0" fill="#0000ff"/>
<circle cx="146.11" cy="298.6" r="1.0" fill="#0000ff"/>
<circle cx="146.32" cy="299.51" r="1.0" fill="#0000ff"/>
<circle cx="146.07" cy="300.42" r="1.0" fill="#0000ff"/>
<circle cx="146.29" cy="301.33" r="1.0" fill="#0000ff"/>
<circle cx="146.26" cy="302.24" r="1.0" fill="#0000ff"/>
<circle cx="145.96" cy="303.15" r="1.0" fill="#0000ff"/>
<circle cx="145.98" cy="304.06" r="1.0" fill="#0000ff"/>
<circle cx="146.0" cy="304.97" r="1.0" fill="#0000ff"/>
<circle cx="145.97" cy="305.88" r="1.0" fill="#0000ff"/>
<circle cx="146.14" cy="306.79" r="1.0" fill="#0000ff"/>
<circle cx="145.98" cy="307.7" r="1.0" fill="#0000ff"/>
<circle cx="146.06" cy="308.61" r="1.0" fill="#0000ff"/>
<circle cx="145.92" cy="309.52" r="1.0" fill="#0000ff"/>
<circle cx="146.31" cy="310.43" r="1.0" fill="#0000ff"/>
<circle cx="146.03" cy="311.34" r="1.0" fill="#0000ff"/>
<circle cx="146.08" cy="312.26" r="1.0" fill="#0000ff"/>
<circle cx="146.14" cy="313.17" r="1.0" fill="#0000ff"/>
<circle cx="146.3" cy="314.08" r="1.0" fill="#0000ff"/>
<circle cx="146.06" cy="314.99" r="1.0" fill="#0000ff"/>
<circle cx="146.31" cy="315.9" r="1.0" fill="#0000ff"/>
<circle cx="146.1" cy="316.81" r="1.0" fill="#0000ff"/>
<circle cx="146.12" cy="317.72" r="1.0" fill="#0000ff"/>
<circle cx="146.11" cy="318.63" r="1.0" fill="#0000ff"/>
<circle cx="145.86" cy="319.54" r="1.0" fill="#0000ff"/>
<circle cx="146.07" cy="320.45" r="1.0" fill="#0000ff"/>
<circle cx="145.94" cy="321.36" r="1.0" fill="#0000ff"/>
<circle cx="145.85" cy="322.27" r="1.0" fill="#0000ff"/>
<circle cx="146.25" cy="323.18" r="1.0" fill="#0000ff"/>
<circle cx="145.94" cy="324.09" r="1.0" fill="#0000ff"/>
<circle cx="146.09" cy="325.0" r="1.0" fill="#0000ff"/>
<circle cx="146.21" cy="327.5" r="1.0" fill="#0000ff"/>
<circle cx="146.13" cy="328.43" r="1.0" fill="#0000ff"/>
<circle cx="146.01" cy="329.36" r="1.0" fill="#0000ff"/>
<circle cx="146.11" cy="330.29" r="1.0" fill="#0000ff"/>
<circle cx="146.13" cy="331.23" r="1.0" fill="#0000ff"/>
<circle cx="146.24" cy="332.16" r="1.0" fill="#0000ff"/>
<circle cx="145.9" cy="333.09" r="1.0" fill="#0000ff"/>
<circle cx="146.13" cy="334.02" r="1.0" fill="#0000ff"/>
<circle cx="145.97" cy="334.95" r="1.0" fill="#0000ff"/>
<circle cx="145.99" cy="335.88" r="1.0" fill="#0000ff"/>
<circle cx="146.24" cy="336.81" r="1.0" fill="#0000ff"/>
<circle cx="146.1" cy="337.74" r="1.0" fill="#0000ff"/>
<circle cx="146.13" cy="338.67" r="1.0" fill="#0000ff"/>
<circle cx="146.23" cy="339.61" r="1.0" fill="#0000ff"/>
<circle cx="146.31" cy="340.54" r="1.0" fill="#0000ff"/>
<circle cx="146.07" cy="341.47" r="1.0" fill="#0000ff"/>
<circle cx="146.16" cy="342.4" r="1.0" fill="#0000ff"/>
<circle cx="158.6" cy="290.2" r="1.0" fill="#0000ff"/>
<circle cx="158.61" cy="291.11" r="1.0" fill="#0000ff"/>
<circle cx="158.7" cy="292.02" r="1.0" fill="#0000ff"/>
<circle cx="158.58" cy="292.94" r="1.0" fill="#0000ff"/>
<circle cx="158.62" cy="293.85" r="1.0" fill="#0000ff"/>
<circle cx="158.59" cy="294.76" r="1.0" fill="#0000ff"/>
<circle cx="158.82" cy="295.67" r="1.0" fill="#0000ff"/>
<circle cx="158.7" cy="296.58" r="1.0" fill="#0000ff"/>
<circle cx="158.79" cy="297.5" r="1.0" fill="#0000ff"/>
<circle cx="158.82" cy="298.41" r="1.0" fill="#0000ff"/>
<circle cx="158.48" cy="299.32" r="1.0" fill="#0000ff"/>
<circle cx="158.63" cy="300.23" r="1.0" fill="#0000ff"/>
<circle cx="158.82" cy="301.14" r="1.0" fill="#0000ff"/>
<circle cx="158.77" cy="302.06" r="1.0" fill="#0000ff"/>
<circle cx="158.42" cy="302.97" r="1.0" fill="#0000ff"/>
<circle cx="158.41" cy="303.88" r="1.0" fill="#0000ff"/>
<circle cx="158.57" cy="304.79" r="1.0" fill="#0000ff"/>
<circle cx="158.39" cy="305.7" r="1.0" fill="#0000ff"/>
<circle cx="158.47" cy="306.62" r="1.0" fill="#0000ff"/>
<circle cx="158.39" cy="307.53" r="1.0" fill="#0000ff"/>
<circle cx="158.68" cy="308.44" r="1.0" fill="#0000ff"/>
<circle cx="158.74" cy="309.35" r="1.0" fill="#0000ff"/>
<circle cx="158.8" cy="310.26" r="1.0" fill="#0000ff"/>
<circle cx="158.43" cy="311.18" r="1.0" fill="#0000ff"/>
<circle cx="158.71" cy="312.09" r="1.0" fill="#0000ff"/>
<circle cx="158.68" cy="313.0" r="1.0" fill="#0000ff"/>
<circle cx="158.42" cy="313.91" r="1.0" fill="#0000ff"/>
<circle cx="158.79" cy="314.82" r="1.0" fill="#0000ff"/>
<circle cx="158.83" cy="315.74" r="1.0" fill="#0000ff"/>
<circle cx="158.46" cy="316.65" r="1.0" fill="#0000ff"/>
<circle cx="158.83" cy="317.56" r="1.0" fill="#0000ff"/>
<circle cx="158.55" cy="318.47" r="1.0" fill="#0000ff"/>
<circle cx="158.59" cy="319.38" r="1.0" fill="#0000ff"/>
<circle cx="158.84" cy="320.3" r="1.0" fill="#0000ff"/>
<circle cx="158.77" cy="321.21" r="1.0" fill="#0000ff"/>
<circle cx="158.43" cy="322.12" r="1.0" fill="#0000ff"/>
<circle cx="158.57" cy="323.03" r="1.0" fill="#0000ff"/>
<circle cx="158.61" cy="323.94" r="1.0" fill="#0000ff"/>
<circle cx="158.52" cy="324.86" r="1.0" fill="#0000ff"/>
<circle cx="158.45" cy="325.77" r="1.0" fill="#0000ff"/>
<circle cx="158.51" cy="326.68" r="1.0" fill="#0000ff"/>
<circle cx="158.71" cy="327.59" r="1.0" fill="#0000ff"/>
<circle cx="158.36" cy="328.5" r="1.0" fill="#0000ff"/>
<circle cx="158.63" cy="329.42" r="1.0" fill="#0000ff"/>
<circle cx="158.57" cy="330.33" r="1.0" fill="#0000ff"/>
<circle cx="158.36" cy="331.24" r="1.0" fill="#0000ff"/>
<circle cx="158.52" cy="332.15" r="1.0" fill="#0000ff"/>
<circle cx="158.66" cy="333.06" r="1.0" fill="#0000ff"/>
<circle cx="158.61" cy="333.98" r="1.0" fill="#0000ff"/>
<circle cx="158.38" cy="334.89" r="1.0" fill="#0000ff"/>
<circle cx="158.84" cy="335.8" r="1.0" fill="#0000ff"/>
<circle cx="158.6" cy="284.8" r="1.0" fill="#0000ff"/>
<circle cx="323.7" cy="342.5" r="1.2" fill="#0000ff"/>
<circle cx="353.5" cy="340.2" r="1.2" fill="#0000ff"/>
<circle cx="353.5" cy="341.4" r="1.2" fill="#0000ff"/>
<circle cx="363.0" cy="342.3" r="1.2" fill="#0000ff"/>
<circle cx="375.4" cy="341.2" r="1.2" fill="#0000ff"/>
<circle cx="376.7" cy="342.1" r="1.2" fill="#0000ff"/>
<circle cx="382.1" cy="342.3" r="1.2" fill="#0000ff"/>
<circle cx="388.8" cy="333.0" r="1.2" fill="#0000ff"/>
<circle cx="388.8" cy="341.4" r="1.2" fill="#0000ff"/>
<text x="127.55" y="393.0" font-size="8.9" text-anchor="middle" fill="#000" font-weight="bold" textLength="36" lengthAdjust="spacingAndGlyphs">NAPRT1</text>
<text x="127.0" y="407.0" font-size="5.5" text-anchor="middle" fill="#000" textLength="38.3" lengthAdjust="spacingAndGlyphs">r squared 0.317</text>
<line x1="31.5" y1="436.9" x2="223.3" y2="472.5" stroke="#ff8080" stroke-width="1"/>
<rect x="31.5" y="408.4" width="191.8" height="105.10000000000002" fill="none" stroke="#9a9a9a" stroke-width="1.3"/>
<line x1="28.6" y1="505.1" x2="31.5" y2="505.1" stroke="#555" stroke-width="0.8"/>
<text transform="translate(23.8,505.1) rotate(-90)" font-size="5.8" text-anchor="middle" fill="#000" stroke="#000" stroke-width="0.1">1</text>
<line x1="28.6" y1="490.45" x2="31.5" y2="490.45" stroke="#555" stroke-width="0.8"/>
<text transform="translate(23.8,490.45) rotate(-90)" font-size="5.8" text-anchor="middle" fill="#000" stroke="#000" stroke-width="0.1">2</text>
<line x1="28.6" y1="475.8" x2="31.5" y2="475.8" stroke="#555" stroke-width="0.8"/>
<text transform="translate(23.8,475.8) rotate(-90)" font-size="5.8" text-anchor="middle" fill="#000" stroke="#000" stroke-width="0.1">3</text>
<line x1="28.6" y1="461.15" x2="31.5" y2="461.15" stroke="#555" stroke-width="0.8"/>
<text transform="translate(23.8,461.15) rotate(-90)" font-size="5.8" text-anchor="middle" fill="#000" stroke="#000" stroke-width="0.1">4</text>
<line x1="28.6" y1="446.5" x2="31.5" y2="446.5" stroke="#555" stroke-width="0.8"/>
<text transform="translate(23.8,446.5) rotate(-90)" font-size="5.8" text-anchor="middle" fill="#000" stroke="#000" stroke-width="0.1">5</text>
<line x1="28.6" y1="431.84999999999997" x2="31.5" y2="431.84999999999997" stroke="#555" stroke-width="0.8"/>
<text transform="translate(23.8,431.84999999999997) rotate(-90)" font-size="5.8" text-anchor="middle" fill="#000" stroke="#000" stroke-width="0.1">6</text>
<line x1="28.6" y1="417.2" x2="31.5" y2="417.2" stroke="#555" stroke-width="0.8"/>
<text transform="translate(23.8,417.2) rotate(-90)" font-size="5.8" text-anchor="middle" fill="#000" stroke="#000" stroke-width="0.1">7</text>
<line x1="59.7" y1="513.5" x2="59.7" y2="517" stroke="#555" stroke-width="0.8"/>
<text x="59.7" y="526.1" font-size="5.8" text-anchor="middle" fill="#000" stroke="#000" stroke-width="0.1">0.3</text>
<line x1="94.85000000000002" y1="513.5" x2="94.85000000000002" y2="517" stroke="#555" stroke-width="0.8"/>
<text x="94.85000000000002" y="526.1" font-size="5.8" text-anchor="middle" fill="#000" stroke="#000" stroke-width="0.1">0.4</text>
<line x1="130.0" y1="513.5" x2="130.0" y2="517" stroke="#555" stroke-width="0.8"/>
<text x="130.0" y="526.1" font-size="5.8" text-anchor="middle" fill="#000" stroke="#000" stroke-width="0.1">0.5</text>
<line x1="165.15" y1="513.5" x2="165.15" y2="517" stroke="#555" stroke-width="0.8"/>
<text x="165.15" y="526.1" font-size="5.8" text-anchor="middle" fill="#000" stroke="#000" stroke-width="0.1">0.6</text>
<line x1="200.3" y1="513.5" x2="200.3" y2="517" stroke="#555" stroke-width="0.8"/>
<text x="200.3" y="526.1" font-size="5.8" text-anchor="middle" fill="#000" stroke="#000" stroke-width="0.1">0.7</text>
<text x="122.2" y="541.8" font-size="8.1" text-anchor="middle" fill="#000" textLength="81.2" lengthAdjust="spacingAndGlyphs" style="font-family:&apos;DejaVu Sans&apos;,sans-serif">methylation b-value</text>
<text transform="translate(16.2,464.4) rotate(-90)" font-size="8.2" text-anchor="middle" fill="#000" textLength="77.8" lengthAdjust="spacingAndGlyphs" style="font-family:&apos;DejaVu Sans&apos;,sans-serif">relative expression</text>
<circle cx="38.5" cy="427.5" r="1.9" fill="#0000ff"/>
<circle cx="76.3" cy="434.4" r="1.9" fill="#0000ff"/>
<circle cx="92.0" cy="441.8" r="1.9" fill="#0000ff"/>
<circle cx="58.2" cy="448.6" r="1.9" fill="#0000ff"/>
<circle cx="87.0" cy="448.0" r="1.9" fill="#0000ff"/>
<circle cx="99.4" cy="463.5" r="1.9" fill="#0000ff"/>
<circle cx="58.9" cy="471.2" r="1.9" fill="#0000ff"/>
<circle cx="79.4" cy="475.7" r="1.9" fill="#0000ff"/>
<circle cx="157.8" cy="434.7" r="1.9" fill="#0000ff"/>
<circle cx="133.6" cy="446.6" r="1.9" fill="#0000ff"/>
<circle cx="136.9" cy="450.2" r="1.9" fill="#0000ff"/>
<circle cx="104.4" cy="458.0" r="1.9" fill="#0000ff"/>
<circle cx="132.6" cy="457.6" r="1.9" fill="#0000ff"/>
<circle cx="146.8" cy="462.1" r="1.9" fill="#0000ff"/>
<circle cx="149.3" cy="458.6" r="1.9" fill="#0000ff"/>
<circle cx="199.9" cy="452.5" r="1.9" fill="#0000ff"/>
<circle cx="182.0" cy="459.4" r="1.9" fill="#0000ff"/>
<circle cx="209.6" cy="462.1" r="1.9" fill="#0000ff"/>
<circle cx="215.5" cy="460.9" r="1.9" fill="#0000ff"/>
<circle cx="175.3" cy="464.0" r="1.9" fill="#0000ff"/>
<circle cx="185.1" cy="466.8" r="1.9" fill="#0000ff"/>
<circle cx="198.0" cy="472.1" r="1.9" fill="#0000ff"/>
<circle cx="202.0" cy="473.2" r="1.9" fill="#0000ff"/>
<circle cx="179.5" cy="479.1" r="1.9" fill="#0000ff"/>
<circle cx="202.0" cy="479.9" r="1.9" fill="#0000ff"/>
<path d="M52.05,419.42L56.75,419.42L54.40,415.19Z" fill="#0000ff"/>
<path d="M96.55,430.21L101.25,430.21L98.90,425.98Z" fill="#0000ff"/>
<path d="M62.45,451.62L67.15,451.62L64.80,447.38Z" fill="#0000ff"/>
<path d="M70.25,459.81L74.95,459.81L72.60,455.58Z" fill="#0000ff"/>
<path d="M59.85,464.62L64.55,464.62L62.20,460.38Z" fill="#0000ff"/>
<path d="M165.45,452.31L170.15,452.31L167.80,448.08Z" fill="#0000ff"/>
<path d="M204.25,452.31L208.95,452.31L206.60,448.08Z" fill="#0000ff"/>
<path d="M190.75,463.92L195.45,463.92L193.10,459.69Z" fill="#0000ff"/>
<path d="M176.85,477.21L181.55,477.21L179.20,472.98Z" fill="#0000ff"/>
<path d="M204.15,481.71L208.85,481.71L206.50,477.48Z" fill="#0000ff"/>
<path d="M209.15,511.21L213.85,511.21L211.50,506.98Z" fill="#0000ff"/>
<circle cx="71.2" cy="411.8" r="1.9" fill="#ff0000"/>
<circle cx="72.6" cy="417.9" r="1.9" fill="#ff0000"/>
<circle cx="68.3" cy="433.6" r="1.9" fill="#ff0000"/>
<circle cx="69.7" cy="433.6" r="1.9" fill="#ff0000"/>
<circle cx="85.2" cy="436.9" r="1.9" fill="#ff0000"/>
<circle cx="85.3" cy="439.9" r="1.9" fill="#ff0000"/>
<circle cx="43.8" cy="441.3" r="1.9" fill="#ff0000"/>
<circle cx="70.8" cy="441.3" r="1.9" fill="#ff0000"/>
<circle cx="78.9" cy="448.7" r="1.9" fill="#ff0000"/>
<circle cx="74.8" cy="451.7" r="1.9" fill="#ff0000"/>
<circle cx="77.2" cy="453.7" r="1.9" fill="#ff0000"/>
<circle cx="63.4" cy="455.8" r="1.9" fill="#ff0000"/>
<circle cx="52.7" cy="460.3" r="1.9" fill="#ff0000"/>
<circle cx="66.3" cy="460.1" r="1.9" fill="#ff0000"/>
<circle cx="107.4" cy="421.0" r="1.9" fill="#ff0000"/>
<circle cx="138.5" cy="431.7" r="1.9" fill="#ff0000"/>
<circle cx="140.4" cy="434.4" r="1.9" fill="#ff0000"/>
<circle cx="124.1" cy="449.6" r="1.9" fill="#ff0000"/>
<circle cx="140.1" cy="453.3" r="1.9" fill="#ff0000"/>
<circle cx="155.7" cy="451.4" r="1.9" fill="#ff0000"/>
<circle cx="113.7" cy="460.6" r="1.9" fill="#ff0000"/>
<circle cx="153.5" cy="458.3" r="1.9" fill="#ff0000"/>
<circle cx="154.4" cy="459.4" r="1.9" fill="#ff0000"/>
<circle cx="150.8" cy="464.6" r="1.9" fill="#ff0000"/>
<circle cx="153.0" cy="464.3" r="1.9" fill="#ff0000"/>
<circle cx="137.2" cy="468.0" r="1.9" fill="#ff0000"/>
<circle cx="137.2" cy="472.4" r="1.9" fill="#ff0000"/>
<circle cx="181.7" cy="433.5" r="1.9" fill="#ff0000"/>
<circle cx="167.8" cy="455.7" r="1.9" fill="#ff0000"/>
<circle cx="163.9" cy="459.8" r="1.9" fill="#ff0000"/>
<circle cx="188.8" cy="457.3" r="1.9" fill="#ff0000"/>
<circle cx="216.2" cy="471.0" r="1.9" fill="#ff0000"/>
<circle cx="205.9" cy="468.0" r="1.9" fill="#ff0000"/>
<circle cx="205.1" cy="474.7" r="1.9" fill="#ff0000"/>
<circle cx="169.8" cy="476.6" r="1.9" fill="#ff0000"/>
<circle cx="185.4" cy="476.6" r="1.9" fill="#ff0000"/>
<circle cx="172.7" cy="484.9" r="1.9" fill="#ff0000"/>
<circle cx="162.2" cy="499.0" r="1.9" fill="#ff0000"/>
<circle cx="167.6" cy="465.8" r="1.9" fill="#ff0000"/>
<path d="M62.95,438.71L67.65,438.71L65.30,434.48Z" fill="#ff0000"/>
<path d="M78.05,439.12L82.75,439.12L80.40,434.88Z" fill="#ff0000"/>
<path d="M67.95,457.62L72.65,457.62L70.30,453.38Z" fill="#ff0000"/>
<path d="M134.35,436.92L139.05,436.92L136.70,432.69Z" fill="#ff0000"/>
<path d="M110.35,457.92L115.05,457.92L112.70,453.69Z" fill="#ff0000"/>
<path d="M183.75,461.62L188.45,461.62L186.10,457.38Z" fill="#ff0000"/>
<path d="M203.05,460.62L207.75,460.62L205.40,456.38Z" fill="#ff0000"/>
<path d="M201.55,469.31L206.25,469.31L203.90,465.08Z" fill="#ff0000"/>
<path d="M166.45,474.21L171.15,474.21L168.80,469.98Z" fill="#ff0000"/>
<path d="M181.25,480.21L185.95,480.21L183.60,475.98Z" fill="#ff0000"/>
<text x="370.0" y="393.0" font-size="8.9" text-anchor="middle" fill="#000" font-weight="bold" textLength="31.5" lengthAdjust="spacingAndGlyphs">NAMPT</text>
<text x="370.85" y="407.0" font-size="5.5" text-anchor="middle" fill="#000" textLength="35.7" lengthAdjust="spacingAndGlyphs">r squared 0.03</text>
<line x1="274.7" y1="462.4" x2="466.9" y2="429.9" stroke="#ff8080" stroke-width="1"/>
<rect x="274.7" y="408.5" width="192.2" height="105.70000000000005" fill="none" stroke="#9a9a9a" stroke-width="1.3"/>
<line x1="271.6" y1="502.58000000000004" x2="274.7" y2="502.58000000000004" stroke="#555" stroke-width="0.8"/>
<text transform="translate(267.2,502.58000000000004) rotate(-90)" font-size="5.8" text-anchor="middle" fill="#000" stroke="#000" stroke-width="0.1">2</text>
<line x1="271.6" y1="482.26" x2="274.7" y2="482.26" stroke="#555" stroke-width="0.8"/>
<text transform="translate(267.2,482.26) rotate(-90)" font-size="5.8" text-anchor="middle" fill="#000" stroke="#000" stroke-width="0.1">3</text>
<line x1="271.6" y1="461.94" x2="274.7" y2="461.94" stroke="#555" stroke-width="0.8"/>
<text transform="translate(267.2,461.94) rotate(-90)" font-size="5.8" text-anchor="middle" fill="#000" stroke="#000" stroke-width="0.1">4</text>
<line x1="271.6" y1="441.62" x2="274.7" y2="441.62" stroke="#555" stroke-width="0.8"/>
<text transform="translate(267.2,441.62) rotate(-90)" font-size="5.8" text-anchor="middle" fill="#000" stroke="#000" stroke-width="0.1">5</text>
<line x1="271.6" y1="421.3" x2="274.7" y2="421.3" stroke="#555" stroke-width="0.8"/>
<text transform="translate(267.2,421.3) rotate(-90)" font-size="5.8" text-anchor="middle" fill="#000" stroke="#000" stroke-width="0.1">6</text>
<line x1="308.3" y1="514.2" x2="308.3" y2="517.5" stroke="#555" stroke-width="0.8"/>
<text x="308.3" y="526.9" font-size="5.8" text-anchor="middle" fill="#000" stroke="#000" stroke-width="0.1">0.020</text>
<line x1="354.3" y1="514.2" x2="354.3" y2="517.5" stroke="#555" stroke-width="0.8"/>
<text x="354.3" y="526.9" font-size="5.8" text-anchor="middle" fill="#000" stroke="#000" stroke-width="0.1">0.025</text>
<line x1="400.3" y1="514.2" x2="400.3" y2="517.5" stroke="#555" stroke-width="0.8"/>
<text x="400.3" y="526.9" font-size="5.8" text-anchor="middle" fill="#000" stroke="#000" stroke-width="0.1">0.030</text>
<line x1="446.30000000000007" y1="514.2" x2="446.30000000000007" y2="517.5" stroke="#555" stroke-width="0.8"/>
<text x="446.30000000000007" y="526.9" font-size="5.8" text-anchor="middle" fill="#000" stroke="#000" stroke-width="0.1">0.035</text>
<text x="375.7" y="543.8" font-size="8.1" text-anchor="middle" fill="#000" textLength="81.2" lengthAdjust="spacingAndGlyphs" style="font-family:&apos;DejaVu Sans&apos;,sans-serif">methylation b-value</text>
<text transform="translate(252.2,464.4) rotate(-90)" font-size="8.2" text-anchor="middle" fill="#000" textLength="77.8" lengthAdjust="spacingAndGlyphs" style="font-family:&apos;DejaVu Sans&apos;,sans-serif">relative expression</text>
<circle cx="312.3" cy="428.6" r="1.9" fill="#0000ff"/>
<circle cx="328.2" cy="434.4" r="1.9" fill="#0000ff"/>
<circle cx="341.8" cy="419.5" r="1.9" fill="#0000ff"/>
<circle cx="310.5" cy="439.6" r="1.9" fill="#0000ff"/>
<circle cx="307.5" cy="442.2" r="1.9" fill="#0000ff"/>
<circle cx="306.3" cy="444.0" r="1.9" fill="#0000ff"/>
<circle cx="287.0" cy="444.2" r="1.9" fill="#0000ff"/>
<circle cx="281.4" cy="446.7" r="1.9" fill="#0000ff"/>
<circle cx="287.8" cy="449.6" r="1.9" fill="#0000ff"/>
<circle cx="313.5" cy="447.2" r="1.9" fill="#0000ff"/>
<circle cx="303.7" cy="450.4" r="1.9" fill="#0000ff"/>
<circle cx="320.1" cy="451.7" r="1.9" fill="#0000ff"/>
<circle cx="298.2" cy="465.2" r="1.9" fill="#0000ff"/>
<circle cx="307.0" cy="474.3" r="1.9" fill="#0000ff"/>
<circle cx="315.3" cy="472.4" r="1.9" fill="#0000ff"/>
<circle cx="316.5" cy="473.9" r="1.9" fill="#0000ff"/>
<circle cx="318.0" cy="480.4" r="1.9" fill="#0000ff"/>
<circle cx="311.3" cy="490.8" r="1.9" fill="#0000ff"/>
<circle cx="314.8" cy="508.1" r="1.9" fill="#0000ff"/>
<circle cx="285.9" cy="510.5" r="1.9" fill="#0000ff"/>
<circle cx="459.8" cy="455.6" r="1.9" fill="#0000ff"/>
<circle cx="305.8" cy="436.0" r="1.9" fill="#0000ff"/>
<circle cx="327.6" cy="467.1" r="1.9" fill="#0000ff"/>
<circle cx="335.6" cy="479.1" r="1.9" fill="#0000ff"/>
<path d="M307.45,414.21L312.15,414.21L309.80,409.98Z" fill="#0000ff"/>
<path d="M306.35,426.12L311.05,426.12L308.70,421.88Z" fill="#0000ff"/>
<path d="M281.55,455.31L286.25,455.31L283.90,451.08Z" fill="#0000ff"/>
<path d="M306.05,465.42L310.75,465.42L308.40,461.19Z" fill="#0000ff"/>
<path d="M308.75,465.42L313.45,465.42L311.10,461.19Z" fill="#0000ff"/>
<path d="M299.45,469.12L304.15,469.12L301.80,464.88Z" fill="#0000ff"/>
<path d="M288.65,471.92L293.35,471.92L291.00,467.69Z" fill="#0000ff"/>
<path d="M296.55,488.01L301.25,488.01L298.90,483.78Z" fill="#0000ff"/>
<path d="M325.85,452.31L330.55,452.31L328.20,448.08Z" fill="#0000ff"/>
<path d="M322.65,469.01L327.35,469.01L325.00,464.78Z" fill="#0000ff"/>
<circle cx="305.6" cy="425.1" r="1.9" fill="#ff0000"/>
<circle cx="319.9" cy="426.2" r="1.9" fill="#ff0000"/>
<circle cx="310.5" cy="429.5" r="1.9" fill="#ff0000"/>
<circle cx="304.7" cy="432.3" r="1.9" fill="#ff0000"/>
<circle cx="316.4" cy="435.0" r="1.9" fill="#ff0000"/>
<circle cx="302.6" cy="436.0" r="1.9" fill="#ff0000"/>
<circle cx="307.5" cy="438.5" r="1.9" fill="#ff0000"/>
<circle cx="313.7" cy="441.7" r="1.9" fill="#ff0000"/>
<circle cx="314.8" cy="443.5" r="1.9" fill="#ff0000"/>
<circle cx="316.4" cy="447.7" r="1.9" fill="#ff0000"/>
<circle cx="320.1" cy="447.2" r="1.9" fill="#ff0000"/>
<circle cx="305.6" cy="449.8" r="1.9" fill="#ff0000"/>
<circle cx="297.3" cy="452.0" r="1.9" fill="#ff0000"/>
<circle cx="300.0" cy="452.0" r="1.9" fill="#ff0000"/>
<circle cx="290.7" cy="457.0" r="1.9" fill="#ff0000"/>
<circle cx="296.2" cy="457.0" r="1.9" fill="#ff0000"/>
<circle cx="302.8" cy="456.5" r="1.9" fill="#ff0000"/>
<circle cx="312.7" cy="457.2" r="1.9" fill="#ff0000"/>
<circle cx="317.4" cy="459.2" r="1.9" fill="#ff0000"/>
<circle cx="300.3" cy="461.5" r="1.9" fill="#ff0000"/>
<circle cx="312.7" cy="462.0" r="1.9" fill="#ff0000"/>
<circle cx="298.4" cy="467.8" r="1.9" fill="#ff0000"/>
<circle cx="318.0" cy="470.1" r="1.9" fill="#ff0000"/>
<circle cx="291.5" cy="474.8" r="1.9" fill="#ff0000"/>
<circle cx="312.1" cy="474.4" r="1.9" fill="#ff0000"/>
<circle cx="315.6" cy="477.5" r="1.9" fill="#ff0000"/>
<circle cx="286.5" cy="482.0" r="1.9" fill="#ff0000"/>
<circle cx="295.7" cy="483.3" r="1.9" fill="#ff0000"/>
<circle cx="300.0" cy="485.7" r="1.9" fill="#ff0000"/>
<circle cx="298.2" cy="504.5" r="1.9" fill="#ff0000"/>
<circle cx="328.9" cy="446.6" r="1.9" fill="#ff0000"/>
<circle cx="324.6" cy="456.1" r="1.9" fill="#ff0000"/>
<path d="M309.25,436.21L313.95,436.21L311.60,431.98Z" fill="#ff0000"/>
<path d="M291.05,439.92L295.75,439.92L293.40,435.69Z" fill="#ff0000"/>
<path d="M289.65,464.92L294.35,464.92L292.00,460.69Z" fill="#ff0000"/>
<path d="M289.15,483.42L293.85,483.42L291.50,479.19Z" fill="#ff0000"/>
<path d="M291.25,483.81L295.95,483.81L293.60,479.58Z" fill="#ff0000"/>
<path d="M311.95,486.92L316.65,486.92L314.30,482.69Z" fill="#ff0000"/>
<path d="M341.15,418.71L345.85,418.71L343.50,414.48Z" fill="#ff0000"/>
<path d="M322.45,449.31L327.15,449.31L324.80,445.08Z" fill="#ff0000"/>
<path d="M327.55,449.62L332.25,449.62L329.90,445.38Z" fill="#ff0000"/>
<path d="M304.55,431.12L309.25,431.12L306.90,426.88Z" fill="#ff0000"/>
</svg>
</body></html>
